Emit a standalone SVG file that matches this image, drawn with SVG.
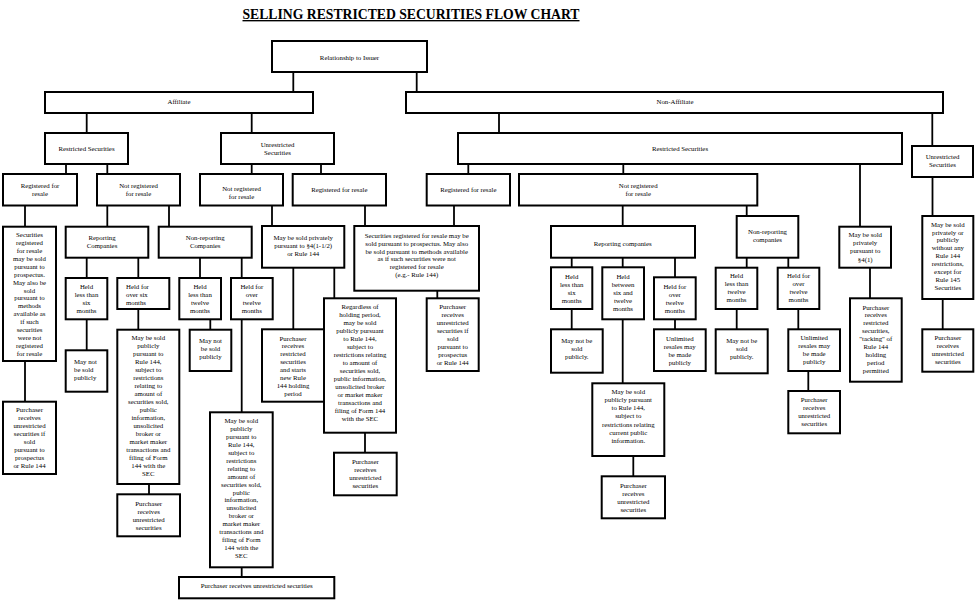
<svg xmlns="http://www.w3.org/2000/svg" width="980" height="605" viewBox="0 0 980 605">
<style>
.b{fill:#fff;stroke:#000;stroke-width:2}
.t{font-family:"Liberation Serif","Times New Roman",serif;font-size:6.8px;text-anchor:middle;fill:#000}
.s{text-anchor:start}
.c line{stroke:#000;stroke-width:1.8}
.ti{font-family:"Liberation Serif","Times New Roman",serif;font-size:13.7px;font-weight:bold;text-anchor:middle;text-decoration:underline;fill:#000}
</style>
<rect width="980" height="605" fill="#fff"/>
<text class="ti" x="411" y="19">SELLING RESTRICTED SECURITIES FLOW CHART</text>
<g class="c" id="connectors">
<line x1="293.3" y1="72" x2="293.3" y2="92"/>
<line x1="416.7" y1="72" x2="416.7" y2="92"/>
<line x1="86.7" y1="113" x2="86.7" y2="133"/>
<line x1="251.7" y1="113" x2="251.7" y2="133"/>
<line x1="499" y1="113" x2="499" y2="133"/>
<line x1="932.3" y1="113" x2="932.3" y2="146"/>
<line x1="66" y1="164" x2="66" y2="174"/>
<line x1="107.3" y1="164" x2="107.3" y2="174"/>
<line x1="251.7" y1="164" x2="251.7" y2="174"/>
<line x1="321" y1="164" x2="321" y2="174"/>
<line x1="468.3" y1="164" x2="468.3" y2="174"/>
<line x1="623.3" y1="164" x2="623.3" y2="174"/>
<line x1="860" y1="164" x2="860" y2="226.7"/>
<line x1="932.5" y1="177.3" x2="932.5" y2="216"/>
<line x1="25" y1="205.5" x2="25" y2="226.7"/>
<line x1="25" y1="361" x2="25" y2="401.7"/>
<line x1="107.3" y1="205.5" x2="107.3" y2="226.7"/>
<line x1="169" y1="205.5" x2="169" y2="226.7"/>
<line x1="86.7" y1="257.7" x2="86.7" y2="278"/>
<line x1="138.3" y1="257.7" x2="138.3" y2="278"/>
<line x1="86.7" y1="319.3" x2="86.7" y2="350.3"/>
<line x1="138.3" y1="309" x2="138.3" y2="329.7"/>
<line x1="149" y1="484" x2="149" y2="494.3"/>
<line x1="200" y1="257.7" x2="200" y2="278"/>
<line x1="241.7" y1="257.7" x2="241.7" y2="278"/>
<line x1="210.3" y1="319.3" x2="210.3" y2="329.7"/>
<line x1="241.7" y1="319.3" x2="241.7" y2="412.3"/>
<line x1="241.7" y1="567.3" x2="241.7" y2="577"/>
<line x1="272" y1="205.5" x2="272" y2="226"/>
<line x1="293.3" y1="267.7" x2="293.3" y2="329.3"/>
<line x1="334.3" y1="267.7" x2="334.3" y2="298.3"/>
<line x1="365" y1="432.7" x2="365" y2="452.7"/>
<line x1="365" y1="205.5" x2="365" y2="226"/>
<line x1="454" y1="205.5" x2="454" y2="226"/>
<line x1="437.3" y1="290.7" x2="437.3" y2="298.3"/>
<line x1="622.7" y1="205.5" x2="622.7" y2="226"/>
<line x1="746.7" y1="205.5" x2="746.7" y2="216"/>
<line x1="571.7" y1="257.7" x2="571.7" y2="267.3"/>
<line x1="622.7" y1="257.7" x2="622.7" y2="267.3"/>
<line x1="675" y1="257.7" x2="675" y2="277.3"/>
<line x1="571.7" y1="309" x2="571.7" y2="329.3"/>
<line x1="622.7" y1="319.3" x2="622.7" y2="383.3"/>
<line x1="633.3" y1="456" x2="633.3" y2="476.3"/>
<line x1="675" y1="319.3" x2="675" y2="329.3"/>
<line x1="746.7" y1="257.7" x2="746.7" y2="267.7"/>
<line x1="788.3" y1="257.7" x2="788.3" y2="267.7"/>
<line x1="736.7" y1="309" x2="736.7" y2="329.3"/>
<line x1="798.3" y1="309" x2="798.3" y2="329.3"/>
<line x1="808.3" y1="371" x2="808.3" y2="391"/>
<line x1="870" y1="267.7" x2="870" y2="298.3"/>
<line x1="942.7" y1="299" x2="942.7" y2="329.3"/>
</g>

<g id="root"><rect class="b" x="272" y="41" width="155" height="31"/><text class="t" x="349.5" y="59.5">Relationship to Issuer</text></g>
<g id="affiliate"><rect class="b" x="45" y="92" width="268" height="21"/><text class="t" x="179" y="103.5">Affiliate</text></g>
<g id="nonaffiliate"><rect class="b" x="406" y="92" width="537" height="21"/><text class="t" x="675" y="103.5">Non-Affiliate</text></g>

<g id="a_restricted"><rect class="b" x="45" y="133" width="83" height="31"/><text class="t" x="86.5" y="150.5">Restricted Securities</text></g>
<g id="a_unrestricted"><rect class="b" x="221" y="133" width="113" height="31"/><text class="t"><tspan x="277.5" y="146.5">Unrestricted</tspan><tspan x="277.5" y="155">Securities</tspan></text></g>
<g id="na_restricted"><rect class="b" x="458" y="133" width="444" height="31"/><text class="t" x="680" y="150.5">Restricted Securities</text></g>
<g id="na_unrestricted"><rect class="b" x="912" y="146" width="61" height="31"/><text class="t"><tspan x="942.5" y="159.2">Unrestricted</tspan><tspan x="942.5" y="167.2">Securities</tspan></text></g>

<g id="a_r_reg"><rect class="b" x="3" y="174" width="74" height="31.5"/><text class="t"><tspan x="40" y="188.2">Registered for</tspan><tspan x="40" y="196.2">resale</tspan></text></g>
<g id="a_r_notreg"><rect class="b" x="97" y="174" width="83" height="31.5"/><text class="t"><tspan x="138.5" y="188">Not registered</tspan><tspan x="138.5" y="196.2">for resale</tspan></text></g>
<g id="a_u_notreg"><rect class="b" x="200" y="174" width="83" height="31.5"/><text class="t"><tspan x="241.5" y="190.8">Not registered</tspan><tspan x="241.5" y="198.8">for resale</tspan></text></g>
<g id="a_u_reg"><rect class="b" x="292.7" y="174" width="93.3" height="31.5"/><text class="t" x="339.3" y="192.2">Registered for resale</text></g>
<g id="na_reg"><rect class="b" x="426.7" y="174" width="83.3" height="31.5"/><text class="t" x="468.3" y="192.2">Registered for resale</text></g>
<g id="na_notreg"><rect class="b" x="519" y="174" width="238.3" height="31.5"/><text class="t"><tspan x="638.2" y="188">Not registered</tspan><tspan x="638.2" y="196.2">for resale</tspan></text></g>

<g id="a_r_reg_sec"><rect class="b" x="3" y="226.7" width="53" height="134.3"/><text class="t">
<tspan x="29.5" y="237.2">Securities</tspan><tspan x="29.5" y="245.1">registered</tspan><tspan x="29.5" y="253">for resale</tspan><tspan x="29.5" y="260.9">may be sold</tspan><tspan x="29.5" y="268.8">pursuant to</tspan><tspan x="29.5" y="276.7">prospectus.</tspan><tspan x="29.5" y="284.6">May also be</tspan><tspan x="29.5" y="292.5">sold</tspan><tspan x="29.5" y="300.4">pursuant to</tspan><tspan x="29.5" y="308.3">methods</tspan><tspan x="29.5" y="316.2">available as</tspan><tspan x="29.5" y="324.1">if such</tspan><tspan x="29.5" y="332">securities</tspan><tspan x="29.5" y="339.9">were not</tspan><tspan x="29.5" y="347.8">registered</tspan><tspan x="29.5" y="355.7">for resale</tspan></text></g>
<g id="a_r_reg_purch"><rect class="b" x="3" y="401.7" width="53" height="72.3"/><text class="t">
<tspan x="29.5" y="412.2">Purchaser</tspan><tspan x="29.5" y="420.2">receives</tspan><tspan x="29.5" y="428.2">unrestricted</tspan><tspan x="29.5" y="436.2">securities if</tspan><tspan x="29.5" y="444.2">sold</tspan><tspan x="29.5" y="452.2">pursuant to</tspan><tspan x="29.5" y="460.2">prospectus</tspan><tspan x="29.5" y="468.2">or Rule 144</tspan></text></g>

<g id="a_reporting"><rect class="b" x="65.7" y="226.7" width="82.6" height="31"/><text class="t"><tspan x="102" y="240">Reporting</tspan><tspan x="102" y="248">Companies</tspan></text></g>
<g id="a_nonreporting"><rect class="b" x="158.7" y="226.7" width="93" height="31"/><text class="t"><tspan x="205.2" y="240">Non-reporting</tspan><tspan x="205.2" y="248">Companies</tspan></text></g>

<g id="a_rep_less6"><rect class="b" x="65.7" y="278" width="41.6" height="41.3"/><text class="t"><tspan x="86.5" y="289">Held</tspan><tspan x="86.5" y="297">less than</tspan><tspan x="86.5" y="305">six</tspan><tspan x="86.5" y="313">months</tspan></text></g>
<g id="a_rep_over6"><rect class="b" x="117.3" y="278" width="52" height="31"/><text class="t s"><tspan x="126" y="289">Held for</tspan><tspan x="126" y="297">over six</tspan><tspan x="126" y="305">months</tspan></text></g>
<g id="a_rep_less6_no"><rect class="b" x="65.7" y="350.3" width="41.6" height="41.4"/><text class="t s"><tspan x="74" y="364">May not</tspan><tspan x="74" y="371.7">be sold</tspan><tspan x="74" y="379.7">publicly</tspan></text></g>
<g id="a_rep_over6_may"><rect class="b" x="117.3" y="329.7" width="62" height="154.3"/><text class="t">
<tspan x="148.3" y="340">May be sold</tspan><tspan x="148.3" y="348">publicly</tspan><tspan x="148.3" y="356">pursuant to</tspan><tspan x="148.3" y="363.9">Rule 144,</tspan><tspan x="148.3" y="371.9">subject to</tspan><tspan x="148.3" y="379.9">restrictions</tspan><tspan x="148.3" y="387.9">relating to</tspan><tspan x="148.3" y="395.9">amount of</tspan><tspan x="148.3" y="403.8">securities sold,</tspan><tspan x="148.3" y="411.8">public</tspan><tspan x="148.3" y="419.8">information,</tspan><tspan x="148.3" y="427.8">unsolicited</tspan><tspan x="148.3" y="435.8">broker or</tspan><tspan x="148.3" y="443.7">market maker</tspan><tspan x="148.3" y="451.7">transactions and</tspan><tspan x="148.3" y="459.7">filing of Form</tspan><tspan x="148.3" y="467.7">144 with the</tspan><tspan x="148.3" y="475.6">SEC</tspan></text></g>
<g id="a_rep_purch"><rect class="b" x="117.3" y="494.3" width="62.7" height="42"/><text class="t"><tspan x="148.7" y="505.5">Purchaser</tspan><tspan x="148.7" y="513.5">receives</tspan><tspan x="148.7" y="521.5">unrestricted</tspan><tspan x="148.7" y="529.5">securities</tspan></text></g>

<g id="a_nr_less12"><rect class="b" x="179.3" y="278" width="41.7" height="41.3"/><text class="t"><tspan x="200" y="289">Held</tspan><tspan x="200" y="297">less than</tspan><tspan x="200" y="305">twelve</tspan><tspan x="200" y="313">months</tspan></text></g>
<g id="a_nr_over12"><rect class="b" x="231" y="278" width="41.7" height="41.3"/><text class="t"><tspan x="251.8" y="289">Held for</tspan><tspan x="251.8" y="297">over</tspan><tspan x="251.8" y="305">twelve</tspan><tspan x="251.8" y="313">months</tspan></text></g>
<g id="a_nr_less12_no"><rect class="b" x="189.7" y="329.7" width="41.6" height="41.3"/><text class="t"><tspan x="210.5" y="343">May not</tspan><tspan x="210.5" y="351">be sold</tspan><tspan x="210.5" y="359">publicly</tspan></text></g>
<g id="a_nr_over12_may"><rect class="b" x="210" y="412.3" width="62.7" height="155"/><text class="t">
<tspan x="241.3" y="423">May be sold</tspan><tspan x="241.3" y="430.9">publicly</tspan><tspan x="241.3" y="438.9">pursuant to</tspan><tspan x="241.3" y="446.8">Rule 144,</tspan><tspan x="241.3" y="454.8">subject to</tspan><tspan x="241.3" y="462.7">restrictions</tspan><tspan x="241.3" y="470.6">relating to</tspan><tspan x="241.3" y="478.6">amount of</tspan><tspan x="241.3" y="486.5">securities sold,</tspan><tspan x="241.3" y="494.5">public</tspan><tspan x="241.3" y="502.4">information,</tspan><tspan x="241.3" y="510.3">unsolicited</tspan><tspan x="241.3" y="518.3">broker or</tspan><tspan x="241.3" y="526.2">market maker</tspan><tspan x="241.3" y="534.2">transactions and</tspan><tspan x="241.3" y="542.1">filing of Form</tspan><tspan x="241.3" y="550">144 with the</tspan><tspan x="241.3" y="558">SEC</tspan></text></g>
<g id="a_final_purch"><rect class="b" x="179" y="577" width="155.3" height="21.3"/><text class="t" x="256.7" y="588">Purchaser receives unrestricted securities</text></g>

<g id="a_u_priv"><rect class="b" x="262" y="226" width="82.3" height="41.7"/><text class="t"><tspan x="303.2" y="240">May be sold privately</tspan><tspan x="303.2" y="248.2">pursuant to §4(1-1/2)</tspan><tspan x="303.2" y="256.2">or Rule 144</tspan></text></g>
<g id="a_u_priv_purch"><rect class="b" x="262" y="329.3" width="62" height="72.4"/><text class="t">
<tspan x="293" y="340.5">Purchaser</tspan><tspan x="293" y="348.4">receives</tspan><tspan x="293" y="356.3">restricted</tspan><tspan x="293" y="364.2">securities</tspan><tspan x="293" y="372.1">and starts</tspan><tspan x="293" y="380">new Rule</tspan><tspan x="293" y="387.9">144 holding</tspan><tspan x="293" y="395.8">period</tspan></text></g>
<g id="a_u_regardless"><rect class="b" x="324" y="298.3" width="72" height="134.4"/><text class="t">
<tspan x="360" y="309">Regardless of</tspan><tspan x="360" y="317">holding period,</tspan><tspan x="360" y="325">may be sold</tspan><tspan x="360" y="333">publicly pursuant</tspan><tspan x="360" y="341">to Rule 144,</tspan><tspan x="360" y="349">subject to</tspan><tspan x="360" y="357">restrictions relating</tspan><tspan x="360" y="365">to amount of</tspan><tspan x="360" y="373">securities sold,</tspan><tspan x="360" y="381">public information,</tspan><tspan x="360" y="389">unsolicited broker</tspan><tspan x="360" y="397">or market maker</tspan><tspan x="360" y="405">transactions and</tspan><tspan x="360" y="413">filing of Form 144</tspan><tspan x="360" y="421">with the SEC</tspan></text></g>
<g id="a_u_regardless_purch"><rect class="b" x="334" y="452.7" width="62.7" height="42.6"/><text class="t"><tspan x="365.3" y="464">Purchaser</tspan><tspan x="365.3" y="472">receives</tspan><tspan x="365.3" y="480">unrestricted</tspan><tspan x="365.3" y="488">securities</tspan></text></g>

<g id="sec_registered"><rect class="b" x="354.3" y="226" width="124.7" height="64.7"/><text class="t">
<tspan x="416.7" y="238">Securities registered for resale may be</tspan><tspan x="416.7" y="245.8">sold pursuant to prospectus. May also</tspan><tspan x="416.7" y="253.6">be sold pursuant to methods available</tspan><tspan x="416.7" y="261.4">as if such securities were not</tspan><tspan x="416.7" y="269.4">registered for resale</tspan><tspan x="416.7" y="277.3">(e.g.- Rule 144)</tspan></text></g>
<g id="sec_registered_purch"><rect class="b" x="426.7" y="298.3" width="52" height="72.7"/><text class="t">
<tspan x="452.7" y="309">Purchaser</tspan><tspan x="452.7" y="317">receives</tspan><tspan x="452.7" y="325">unrestricted</tspan><tspan x="452.7" y="333">securities if</tspan><tspan x="452.7" y="341">sold</tspan><tspan x="452.7" y="349">pursuant to</tspan><tspan x="452.7" y="357">prospectus</tspan><tspan x="452.7" y="365">or Rule 144</tspan></text></g>

<g id="na_reporting"><rect class="b" x="551" y="226" width="144" height="31.7"/><text class="t" x="622.7" y="245.5">Reporting companies</text></g>
<g id="na_nonreporting"><rect class="b" x="736.7" y="216" width="61.6" height="41.7"/><text class="t"><tspan x="767.5" y="234">Non-reporting</tspan><tspan x="767.5" y="242.2">companies</tspan></text></g>

<g id="na_rep_less6"><rect class="b" x="551" y="267.3" width="41.3" height="41.7"/><text class="t"><tspan x="571.7" y="279">Held</tspan><tspan x="571.7" y="287">less than</tspan><tspan x="571.7" y="294.7">six</tspan><tspan x="571.7" y="302.5">months</tspan></text></g>
<g id="na_rep_between"><rect class="b" x="602.3" y="267.3" width="41.7" height="52"/><text class="t"><tspan x="623" y="279">Held</tspan><tspan x="623" y="287">between</tspan><tspan x="623" y="294.7">six and</tspan><tspan x="623" y="302.5">twelve</tspan><tspan x="623" y="310.5">months</tspan></text></g>
<g id="na_rep_over12"><rect class="b" x="654" y="277.3" width="41.7" height="42"/><text class="t"><tspan x="674.8" y="289">Held for</tspan><tspan x="674.8" y="297">over</tspan><tspan x="674.8" y="305">twelve</tspan><tspan x="674.8" y="313">months</tspan></text></g>
<g id="na_rep_less6_no"><rect class="b" x="551" y="329.3" width="51.7" height="43.4"/><text class="t"><tspan x="576.8" y="342.5">May not be</tspan><tspan x="576.8" y="350.5">sold</tspan><tspan x="576.8" y="358.8">publicly.</tspan></text></g>
<g id="na_rep_between_may"><rect class="b" x="592.3" y="383.3" width="72" height="72.7"/><text class="t">
<tspan x="628.3" y="394.2">May be sold</tspan><tspan x="628.3" y="402.2">publicly pursuant</tspan><tspan x="628.3" y="410.2">to Rule 144,</tspan><tspan x="628.3" y="418.2">subject to</tspan><tspan x="628.3" y="426.5">restrictions relating</tspan><tspan x="628.3" y="434.5">current public</tspan><tspan x="628.3" y="442.5">information.</tspan></text></g>
<g id="na_rep_between_purch"><rect class="b" x="601.7" y="476.3" width="63.3" height="42"/><text class="t"><tspan x="633.3" y="488">Purchaser</tspan><tspan x="633.3" y="495.8">receives</tspan><tspan x="633.3" y="503.7">unrestricted</tspan><tspan x="633.3" y="511.5">securities</tspan></text></g>
<g id="na_rep_over12_unl"><rect class="b" x="654" y="329.3" width="51.7" height="41.7"/><text class="t"><tspan x="679.8" y="340.5">Unlimited</tspan><tspan x="679.8" y="348.9">resales may</tspan><tspan x="679.8" y="356.5">be made</tspan><tspan x="679.8" y="364.5">publicly</tspan></text></g>

<g id="na_nr_less12"><rect class="b" x="715.7" y="267.7" width="41.6" height="41.3"/><text class="t"><tspan x="736.5" y="278.2">Held</tspan><tspan x="736.5" y="286.2">less than</tspan><tspan x="736.5" y="294.2">twelve</tspan><tspan x="736.5" y="302.2">months</tspan></text></g>
<g id="na_nr_over12"><rect class="b" x="777.7" y="267.7" width="41.6" height="41.3"/><text class="t"><tspan x="798.5" y="278.2">Held for</tspan><tspan x="798.5" y="286.2">over</tspan><tspan x="798.5" y="294.2">twelve</tspan><tspan x="798.5" y="302.2">months</tspan></text></g>
<g id="na_nr_less12_no"><rect class="b" x="715.7" y="329.3" width="52" height="44"/><text class="t"><tspan x="741.7" y="342.9">May not be</tspan><tspan x="741.7" y="350.9">sold</tspan><tspan x="741.7" y="358.9">publicly.</tspan></text></g>
<g id="na_nr_over12_unl"><rect class="b" x="788.3" y="329.3" width="51.7" height="41.7"/><text class="t"><tspan x="814.2" y="339.9">Unlimited</tspan><tspan x="814.2" y="348.2">resales may</tspan><tspan x="814.2" y="356.2">be made</tspan><tspan x="814.2" y="364.2">publicly</tspan></text></g>
<g id="na_nr_over12_purch"><rect class="b" x="788.3" y="391" width="51.7" height="42.3"/><text class="t"><tspan x="814.2" y="402.2">Purchaser</tspan><tspan x="814.2" y="410.2">receives</tspan><tspan x="814.2" y="418.2">unrestricted</tspan><tspan x="814.2" y="426.2">securities</tspan></text></g>

<g id="na_priv41"><rect class="b" x="839.3" y="226.7" width="51.7" height="41"/><text class="t"><tspan x="865.2" y="237.2">May be sold</tspan><tspan x="865.2" y="245.2">privately</tspan><tspan x="865.2" y="253.2">pursuant to</tspan><tspan x="865.2" y="261.5">§4(1)</tspan></text></g>
<g id="na_priv41_purch"><rect class="b" x="850" y="298.3" width="51.7" height="83.4"/><text class="t">
<tspan x="875.8" y="309.5">Purchaser</tspan><tspan x="875.8" y="317.4">receives</tspan><tspan x="875.8" y="325.4">restricted</tspan><tspan x="875.8" y="333.3">securities,</tspan><tspan x="875.8" y="341.2">"tacking" of</tspan><tspan x="875.8" y="349.2">Rule 144</tspan><tspan x="875.8" y="357.1">holding</tspan><tspan x="875.8" y="365">period</tspan><tspan x="875.8" y="372.9">permitted</tspan></text></g>

<g id="na_unr_may"><rect class="b" x="922.3" y="216" width="51" height="83"/><text class="t">
<tspan x="947.8" y="226.5">May be sold</tspan><tspan x="947.8" y="234.5">privately or</tspan><tspan x="947.8" y="242.4">publicly</tspan><tspan x="947.8" y="250.4">without any</tspan><tspan x="947.8" y="258.3">Rule 144</tspan><tspan x="947.8" y="266.3">restrictions,</tspan><tspan x="947.8" y="274.2">except for</tspan><tspan x="947.8" y="282.2">Rule 145</tspan><tspan x="947.8" y="290.1">Securities</tspan></text></g>
<g id="na_unr_purch"><rect class="b" x="922.3" y="329.3" width="51" height="42.4"/><text class="t"><tspan x="947.8" y="339.9">Purchaser</tspan><tspan x="947.8" y="348.2">receives</tspan><tspan x="947.8" y="356.2">unrestricted</tspan><tspan x="947.8" y="364.2">securities</tspan></text></g>
</svg>
